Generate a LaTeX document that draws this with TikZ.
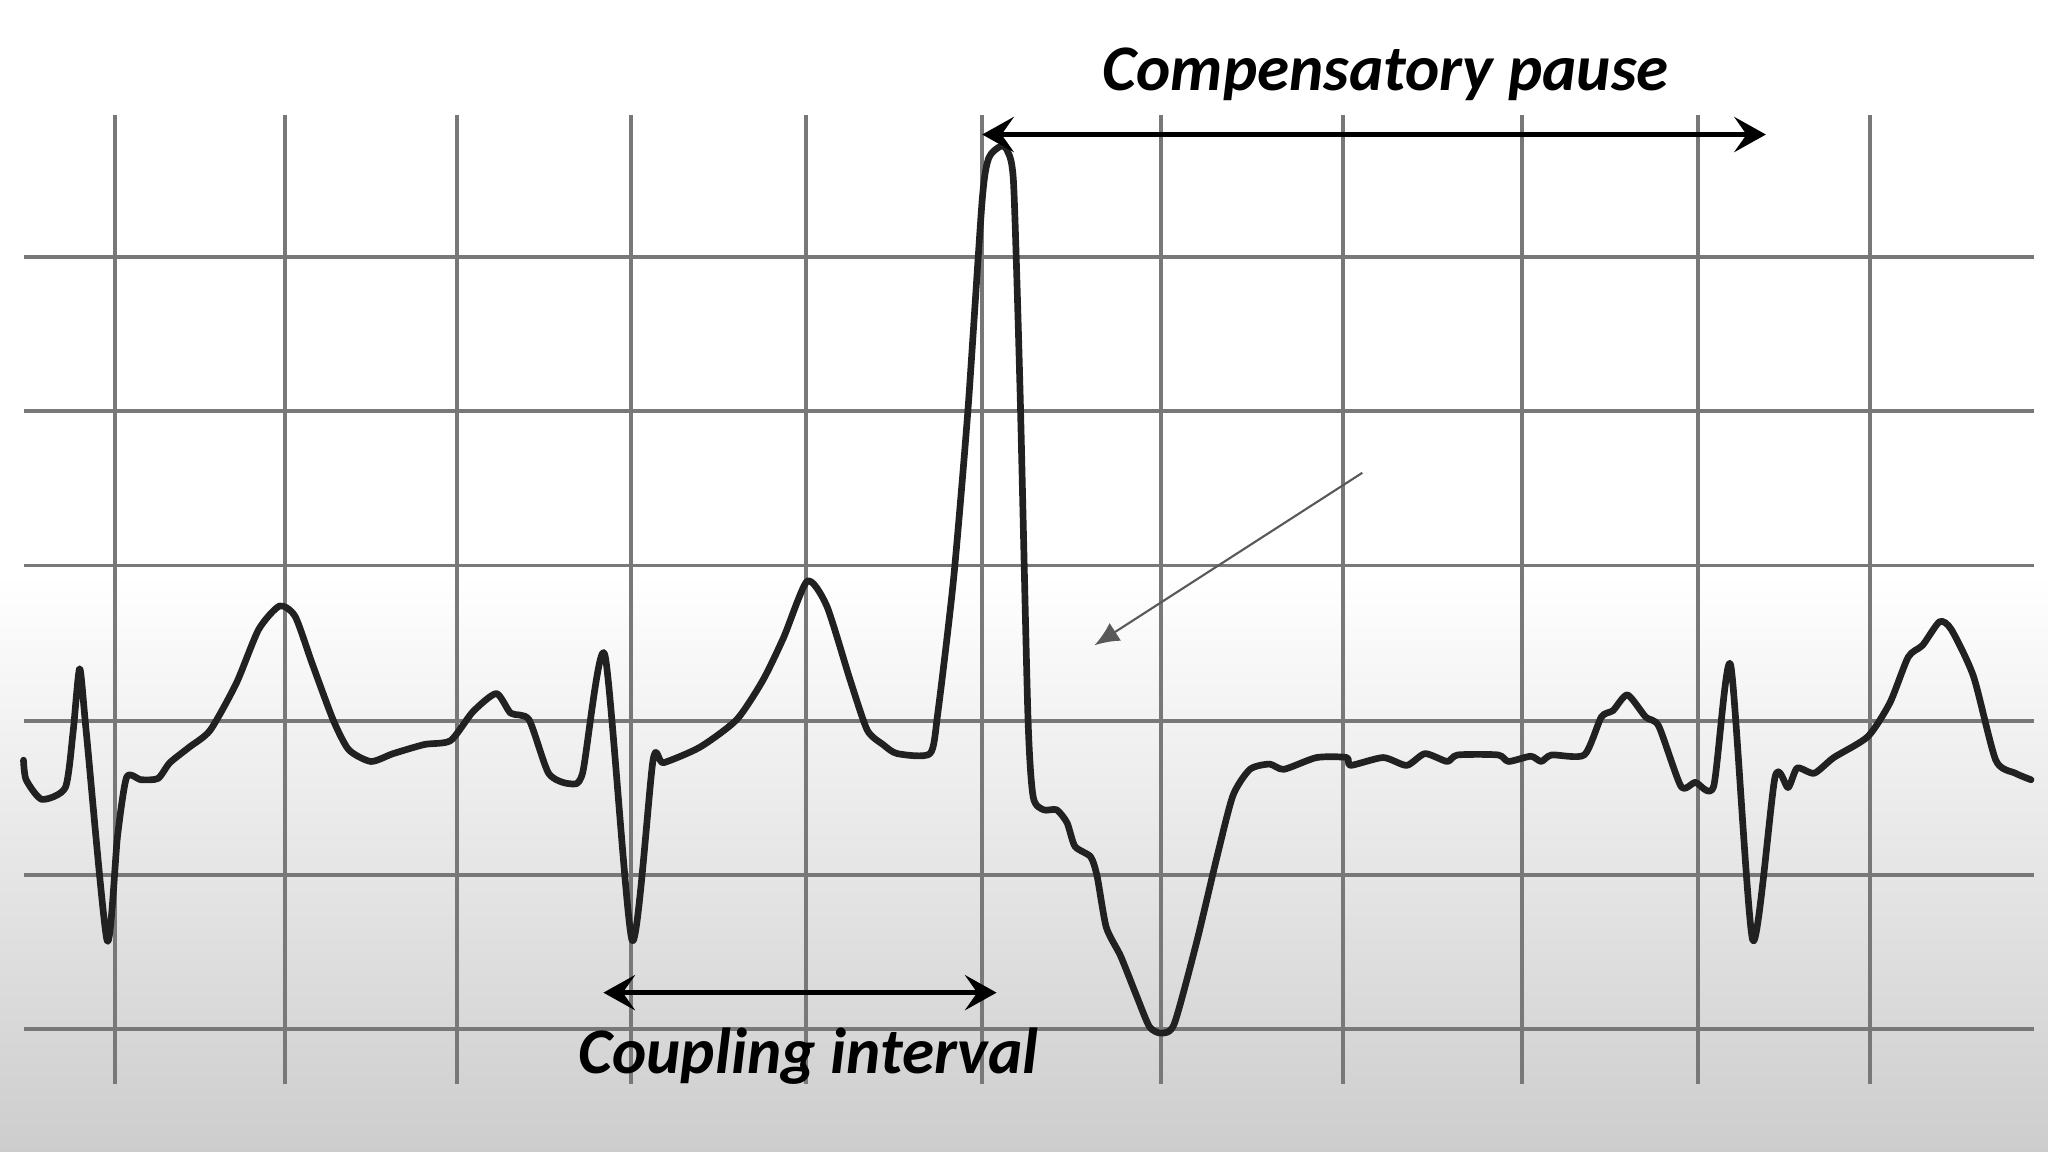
\documentclass[tikz,border=0pt]{standalone}
\usepackage{fontspec}
\setmainfont{Carlito}
\usetikzlibrary{arrows.meta}
\definecolor{gridc}{gray}{0.47}
\definecolor{tracec}{gray}{0.13}
\definecolor{bgbot}{RGB}{205,205,205}
\begin{document}
\begin{tikzpicture}[x=0.0130612cm,y=-0.0130612cm,
  gridline/.style={draw=gridc, line width=1.1pt},
  trace/.style={draw=tracec, line width=1.9pt, line join=round, line cap=round},
  measure/.style={draw=black, line width=1.3pt,
    {Stealth[length=9pt,width=10pt,inset=3.5pt]}-{Stealth[length=9pt,width=10pt,inset=3.5pt]}},
  pointer/.style={draw=black!65, line width=0.6pt, -{Latex[length=7pt,width=6pt]}},
  lbl/.style={font=\fontsize{18.5}{22}\selectfont\bfseries\itshape, inner sep=0pt, anchor=base}]

\useasboundingbox (0,0) rectangle (1568,882);
\fill[white] (0,0) rectangle (1568,882);
\shade[top color=white, bottom color=bgbot] (0,440) rectangle (1568,882);

% grid
\foreach \x in {88,218,350,483,617,752,889,1028,1165,1300,1432}
  \draw[gridline] (\x,88) -- (\x,830);
\foreach \y in {197,315,433,552,670,788}
  \draw[gridline] (18,\y) -- (1557,\y);

% ECG trace
\draw[trace] plot[smooth,tension=0.4] coordinates {
 (18,582) (20,597) (32,612) (50,603) (56,560) (61,512) (66,560) (82,720) (90,640) (97,595)
 (108,597) (121,596) (130,584) (145,572) (161,559) (181,523) (198,482) (214,464) (226,472)
 (239,508) (255,551) (267,574) (284,583) (301,577) (325,570) (345,567) (362,545) (380,531)
 (391,546) (405,551) (420,592) (436,600) (446,592) (463,501) (484,720) (500,582) (508,584)
 (536,572) (564,551) (584,521) (600,488) (618,445) (633,464) (651,521) (664,559) (676,570)
 (687,577) (712,577) (718,546) (730,444) (741,315) (752,153) (757,121) (766,112) (771,115)
 (776,140) (781,300) (787,548) (791,610) (799,620) (809,620) (817,630) (823,648) (835,656)
 (840,671) (847,710) (858,732) (870,762) (880,786) (889,791) (899,784) (916,722) (932,655)
 (944,609) (957,589) (972,585) (983,589) (1008,580) (1031,580) (1034,586) (1059,580)
 (1077,586) (1091,577) (1108,583) (1116,578) (1147,578) (1155,583) (1172,579) (1180,583)
 (1188,578) (1213,578) (1226,549) (1235,544) (1246,532) (1260,549) (1270,556) (1287,602)
 (1298,599) (1312,602) (1325,509) (1342,720) (1359,595) (1369,603) (1376,588) (1389,592)
 (1404,580) (1430,564) (1447,538) (1461,503) (1472,494) (1485,476) (1494,482) (1511,518)
 (1528,582) (1543,592) (1555,597)};

% measurement arrows and labels
\coordinate (cpL) at (752,103);
\coordinate (cpR) at (1352,103);
\draw[measure] (cpL) -- (cpR);
\node[lbl] (cp) at (1061,69) {Compensatory pause};

\coordinate (ciL) at (462,760);
\coordinate (ciR) at (763,760);
\draw[measure] (ciL) -- (ciR);
\node[lbl] (ci) at (619,822) {Coupling interval};

% pointer arrow
\coordinate (pS) at (1043,362);
\coordinate (pE) at (838,494);
\draw[pointer] (pS) -- (pE);
\end{tikzpicture}
\end{document}
